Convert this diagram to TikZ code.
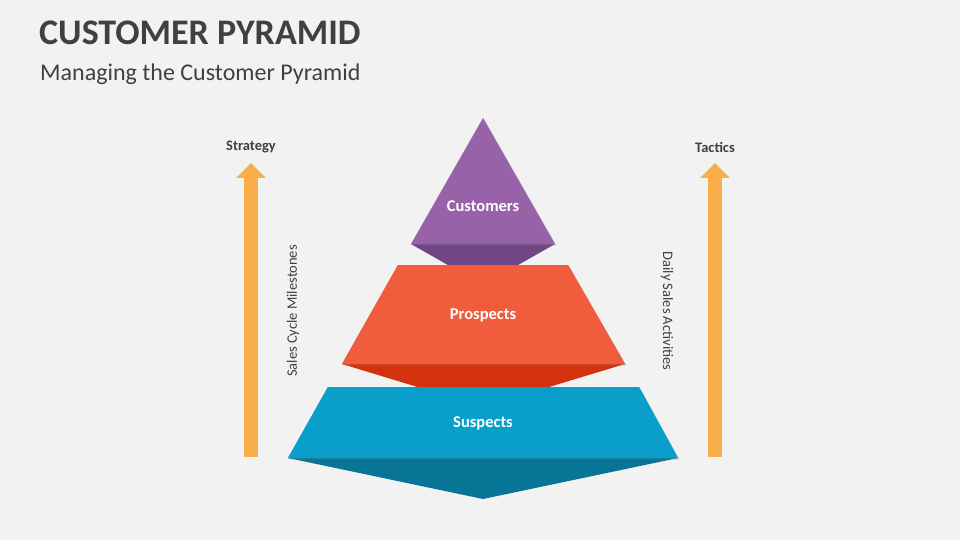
\documentclass[tikz,border=0pt]{standalone}
\usepackage{fontspec}
\setmainfont{Carlito}
\usepackage{tikz}
\usetikzlibrary{calc, positioning, arrows.meta, shadows}
\definecolor{bggray}{HTML}{F2F2F2}
\definecolor{txtgray}{HTML}{404040}
\definecolor{topcol}{HTML}{9762A8}
\definecolor{topdark}{HTML}{6F4683}
\definecolor{midcol}{HTML}{F15D3C}
\definecolor{middark}{HTML}{D2320E}
\definecolor{botcol}{HTML}{0A9ECB}
\definecolor{botdark}{HTML}{087496}
\definecolor{arrcol}{HTML}{F9AE4A}

\begin{document}
\begin{tikzpicture}[
		x=1pt, y=-1pt, % pixel coordinates, origin top left
		tier/.style={
				drop shadow={opacity=0.25, shadow xshift=1.5pt, shadow yshift=-1.5pt}
			},
		tierlabel/.style={
				text=white,
				font=\fontsize{16.5}{19}\selectfont\bfseries
			},
		sidelabel/.style={
				text=txtgray,
				font=\fontsize{14.5}{17}\selectfont\bfseries
			},
		sidetext/.style={
				text=txtgray,
				font=\fontsize{14.5}{17}\selectfont
			},
		uparrow/.style={
				draw=arrcol,
				line width=14pt,
				-{Triangle[width=29pt,length=15pt]}
			}
	]
	\useasboundingbox[fill=bggray] (0,0) rectangle (960,540);

	% Title
	\node[anchor=base west, inner sep=0, text=txtgray, font=\fontsize{36}{42}\selectfont\bfseries] (title) at (39,45) {CUSTOMER PYRAMID};
	\node[anchor=base west, inner sep=0, text=txtgray, font=\fontsize{24}{28}\selectfont] (subtitle) at (40,81) {Managing the Customer Pyramid};

	% Pyramid (bottom to top, shadows first)
	\fill[botdark] (288,458) -- (678,458) -- (483,499) -- cycle;
	\fill[botcol, tier] (328,387) -- (639,387) -- (678,458) -- (288,458) -- cycle;
	\fill[middark] (342,364) -- (625,364) -- (483,407) -- cycle;
	\fill[botcol] (328,387) -- (639,387) -- (678,458) -- (288,458) -- cycle;
	\fill[midcol, tier] (398,265) -- (568,265) -- (625,364) -- (342,364) -- cycle;
	\fill[topdark] (411,244) -- (555,244) -- (483,285) -- cycle;
	\fill[midcol] (398,265) -- (568,265) -- (625,364) -- (342,364) -- cycle;
	\fill[topcol, tier] (483,118) -- (555,244) -- (411,244) -- cycle;

	% Tier labels
	\node[tierlabel] (customers) at (483,206) {Customers};
	\node[tierlabel] (prospects) at (483,315) {Prospects};
	\node[tierlabel] (suspects) at (483,423) {Suspects};

	% Side arrows
	\node[sidelabel] (strategy) at (251,147) {Strategy};
	\node[sidelabel] (tactics) at (715,147) {Tactics};
	\coordinate (strat_base) at (251,457);
	\coordinate (strat_tip) at (251,163);
	\coordinate (tact_base) at (715,457);
	\coordinate (tact_tip) at (715,163);
	\draw[uparrow] (strat_base) -- (strat_tip);
	\draw[uparrow] (tact_base) -- (tact_tip);

	% Side texts
	\node[sidetext, rotate=90] (milestones) at (293,311) {Sales Cycle Milestones};
	\node[sidetext, rotate=-90] (activities) at (667,311) {Daily Sales Activities};
\end{tikzpicture}
\end{document}
